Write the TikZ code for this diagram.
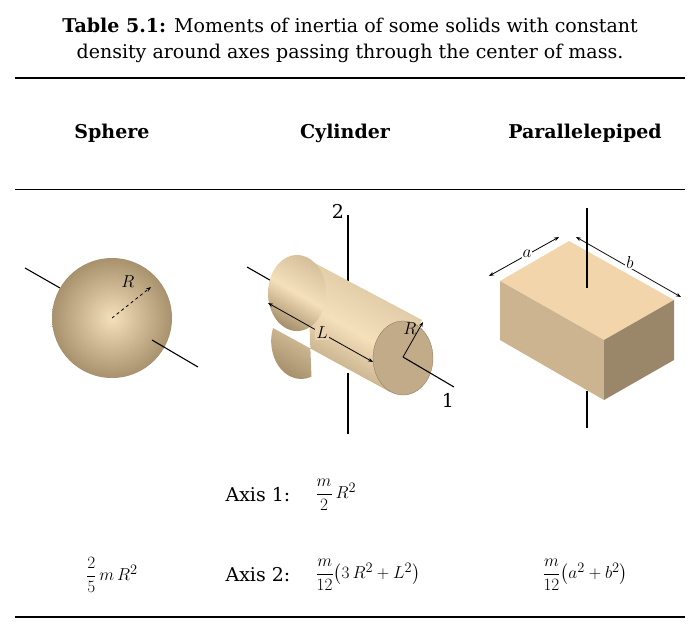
\documentclass[tikz,border=0pt]{standalone}
\usepackage{amsmath}
\usepackage{fontspec}
\setmainfont{DejaVu Serif}
\usetikzlibrary{arrows.meta}
\begin{document}
\begin{tikzpicture}[x=1pt,y=-1pt,
  txt/.style={font=\fontsize{19}{26}\selectfont},
  axisline/.style={line width=1.1pt},
  dim/.style={line width=0.8pt,{Stealth[length=5pt]}-{Stealth[length=5pt]}},
  lab/.style={font=\fontsize{19}{22}\selectfont, inner sep=1pt}]
\useasboundingbox (0,0) rectangle (700,630);
\definecolor{ctop}{HTML}{F2D5AA}\definecolor{cleft}{HTML}{CBB48F}\definecolor{cright}{HTML}{9A876A}
\definecolor{clight}{HTML}{F5E0BC}\definecolor{cdark}{HTML}{A8916D}
% title
\node[txt,align=center] (title) at (350,40) {\textbf{Table 5.1:} Moments of inertia of some solids with constant\\density around axes passing through the center of mass.};
\draw[line width=1.8pt] (15,78) -- (685,78);
\draw[line width=0.8pt] (15,189) -- (685,189);
\draw[line width=1.8pt] (15,617) -- (685,617);
\node[txt,font=\fontsize{19}{26}\selectfont\bfseries] (h1) at (112,133) {Sphere};
\node[txt,font=\fontsize{19}{26}\selectfont\bfseries] (h2) at (345,133) {Cylinder};
\node[txt,font=\fontsize{19}{26}\selectfont\bfseries] (h3) at (585,133) {Parallelepiped};
% sphere
\coordinate (sc) at (112,318);
\draw[axisline] (25,268) -- (60,288);
\shade[inner color=clight,outer color=cdark] (112,318) circle (60);
\draw[axisline] (152,340) -- (198,367);
\draw[dashed,line width=0.8pt,-{Stealth[length=5pt]}] (sc) -- (151,287);
\node[lab] (sr) at (128,282) {$R$};
% cylinder
\draw[axisline] (348,215) -- (348,293);
\draw[axisline] (348,373) -- (348,434);
\node[lab] (c2) at (338,211) {2};
\draw[axisline] (247,267) -- (275,283);
\shade[top color=clight!60!cdark,bottom color=cdark,middle color=clight,shading angle=-30]
  (307,259) -- (422,320) -- (390,392) -- (273,328)
  arc[start angle=200,end angle=70,x radius=30,y radius=38] -- cycle;
\shade[top color=clight!60!cdark,bottom color=cdark,middle color=clight,shading angle=-30]
  (297,293) ellipse[x radius=29,y radius=38];
\fill[cleft!95!black] (403,358) ellipse[x radius=30,y radius=37];
\draw[cdark!80!black,line width=0.3pt] (403,358) ellipse[x radius=30,y radius=37];
\coordinate (cc) at (403,357);
\draw[axisline] (cc) -- (454,387);
\node[lab] (c1) at (448,400) {1};
\draw[line width=0.8pt,-{Stealth[length=5pt]}] (cc) -- (423,322);
\node[lab] (cr) at (410,329) {$R$};
\coordinate (la) at (268,303); \coordinate (lb) at (373,362);
\draw[dim] (la) -- (lb);
\node[lab,fill=clight!70!cleft] (cl) at (322,333) {$L$};
% box
\draw[axisline] (587,208) -- (587,241);
\fill[ctop] (569,241) -- (674,300) -- (604,340) -- (500,281) -- cycle;
\fill[cleft] (500,281) -- (604,340) -- (604,400) -- (500,340) -- cycle;
\fill[cright] (604,340) -- (674,300) -- (674,360) -- (604,400) -- cycle;
\draw[axisline] (587,241) -- (587,288);
\draw[axisline] (587,391) -- (587,428);
\coordinate (a1) at (489,276); \coordinate (a2) at (559,237);
\draw[dim] (a1) -- (a2);
\node[lab,fill=white] (al) at (527,254) {$a$};
\coordinate (b1) at (576,237); \coordinate (b2) at (681,297);
\draw[dim] (b1) -- (b2);
\node[lab,fill=white] (bl) at (630,262) {$b$};
% formulas
\node[txt,anchor=west] (ax1) at (222,495) {Axis 1:};
\node[txt,anchor=west] (f1) at (312,495) {$\dfrac{m}{2}\,R^2$};
\node[txt] (f0) at (112,575) {$\dfrac{2}{5}\,m\,R^2$};
\node[txt,anchor=west] (ax2) at (222,575) {Axis 2:};
\node[txt,anchor=west] (f2) at (312,575) {$\dfrac{m}{12}\bigl(3\,R^2+L^2\bigr)$};
\node[txt] (f3) at (585,575) {$\dfrac{m}{12}\bigl(a^2+b^2\bigr)$};
\end{tikzpicture}
\end{document}
